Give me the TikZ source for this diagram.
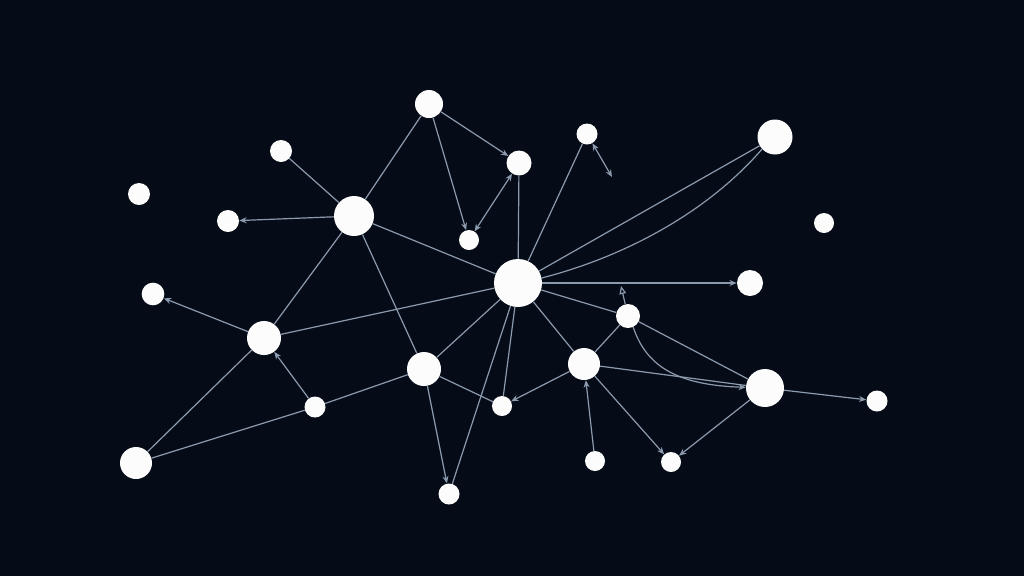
\documentclass[tikz,border=0pt]{standalone}
\usetikzlibrary{arrows.meta}
\definecolor{bg}{HTML}{050C17}
\definecolor{edgec}{HTML}{8C9AAE}
\definecolor{nodec}{HTML}{FCFCFC}
\begin{document}
\begin{tikzpicture}[x=0.75pt,y=-0.75pt,
  dot/.style={circle,fill=nodec,draw=none,inner sep=0pt},
  ln/.style={draw=edgec,line width=0.9pt},
  arr/.style={ln,-{Stealth[length=5.5pt,width=4.5pt]}},
  darr/.style={ln,{Stealth[length=5.5pt,width=4.5pt]}-{Stealth[length=5.5pt,width=4.5pt]}},
  oarr/.style={ln,-{Triangle[open,length=6pt,width=5pt]}}]
\path[fill=bg] (0,0) rectangle (1024,576);
\useasboundingbox (0,0) rectangle (1024,576);
% nodes
\node[dot,minimum size=21pt]    (A) at (429,104) {};
\node[dot,minimum size=16.5pt]  (B) at (281,151) {};
\node[dot,minimum size=16.5pt]  (C) at (139,194) {};
\node[dot,minimum size=16.5pt]  (D) at (228,221) {};
\node[dot,minimum size=30pt]    (E) at (354,216) {};
\node[dot,minimum size=18.75pt] (F) at (519,163) {};
\node[dot,minimum size=15pt]    (G) at (469,240) {};
\node[dot,minimum size=15.75pt] (H) at (587,134) {};
\node[dot,minimum size=26.25pt] (I) at (775,137) {};
\node[dot,minimum size=15pt]    (J) at (824,223) {};
\node[dot,minimum size=36pt]    (K) at (518,283) {};
\node[dot,minimum size=17pt]    (L) at (153,294) {};
\node[dot,minimum size=25.5pt]  (M) at (264,338) {};
\node[dot,minimum size=19.5pt]  (N) at (750,283) {};
\node[dot,minimum size=18pt]    (O) at (628,316) {};
\node[dot,minimum size=25.5pt]  (P) at (424,369) {};
\node[dot,minimum size=24pt]    (Q) at (584,364) {};
\node[dot,minimum size=15.75pt] (R) at (315,407) {};
\node[dot,minimum size=15pt]    (S) at (502,406) {};
\node[dot,minimum size=28.5pt]  (T) at (765,388) {};
\node[dot,minimum size=15.75pt] (U) at (877,401) {};
\node[dot,minimum size=24pt]    (V) at (136,463) {};
\node[dot,minimum size=15pt]    (W) at (595,461) {};
\node[dot,minimum size=15pt]    (X) at (671,462) {};
\node[dot,minimum size=15.75pt] (Y) at (449,494) {};
\coordinate (h1) at (612,177);
\coordinate (o1) at (621,286);
% edges
\draw[ln]   (A) -- (E);
\draw[arr]  (A) -- (F);
\draw[arr]  (A) -- (G);
\draw[darr] (G) -- (F);
\draw[ln]   (F) -- (K);
\draw[ln]   (H) -- (K);
\draw[darr] (H) -- (h1);
\draw[ln]   (I) -- (K);
\draw[ln]   (I.223) .. controls (705,215) and (620,258) .. (K.12);
\draw[arr]  (K) -- (N);
\draw[oarr] (O) -- (o1);
\draw[ln]   (K) -- (O);
\draw[ln]   (O) -- (T);
\draw[arr]  (O.295) .. controls (646,365) and (675,385) .. (T.178);
\draw[ln]   (Q) -- (T);
\draw[ln]   (Q) -- (O);
\draw[ln]   (K) -- (Q);
\draw[arr]  (Q) -- (X);
\draw[arr]  (T) -- (X);
\draw[arr]  (T) -- (U);
\draw[arr]  (W) -- (Q);
\draw[arr]  (Q) -- (S);
\draw[ln]   (K) -- (S);
\draw[ln]   (K) -- (Y);
\draw[arr]  (P) -- (Y);
\draw[ln]   (K) -- (P);
\draw[ln]   (P) -- (S);
\draw[ln]   (E) -- (P);
\draw[ln]   (E) -- (K);
\draw[arr]  (E) -- (D);
\draw[ln]   (B) -- (E);
\draw[ln]   (E) -- (M);
\draw[ln]   (M) -- (K);
\draw[arr]  (M) -- (L);
\draw[arr]  (R) -- (M);
\draw[ln]   (M) -- (V);
\draw[ln]   (V) -- (R);
\draw[ln]   (R) -- (P);
\end{tikzpicture}
\end{document}
